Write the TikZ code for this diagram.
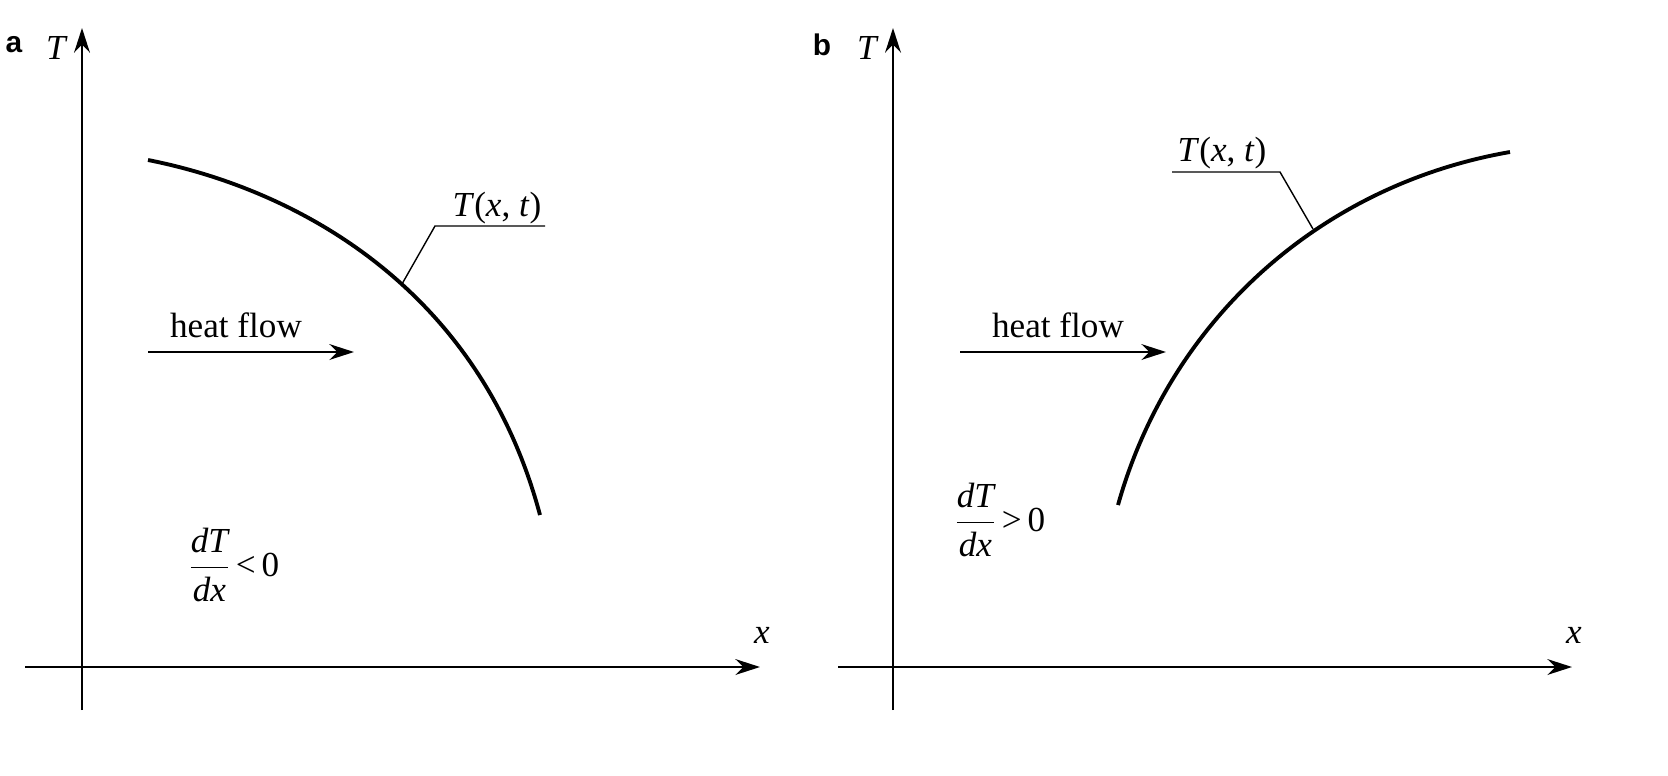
\documentclass[tikz,border=0pt]{standalone}
\usepackage{fontspec}
\setmainfont{Liberation Serif}
\newfontfamily\labfont{Liberation Sans}
\usetikzlibrary{arrows.meta}
\newcommand{\vi}[1]{\textit{#1}}
\begin{document}
\begin{tikzpicture}[x=0.02cm,y=-0.02cm,
  ax/.style={line width=1.3pt,-{Stealth[length=14pt,width=9pt]}},
  crv/.style={line width=2.2pt},
  lead/.style={line width=0.8pt},
  txt/.style={font=\fontsize{20}{23}\selectfont,inner sep=0pt},
  lab/.style={font=\labfont\bfseries\fontsize{17}{20}\selectfont,inner sep=0pt}]
\path[use as bounding box] (0,0) rectangle (1668,775);
% panel a
\coordinate (ay0) at (82,710); \coordinate (ay1) at (82,28);
\coordinate (ax0) at (25,667); \coordinate (ax1) at (760,667);
\draw[ax] (ay0) -- (ay1);
\draw[ax] (ax0) -- (ax1);
\node[lab] (la) at (14,45) {a};
\node[txt] (Ta) at (57,48) {\vi{T}};
\node[txt] (xa) at (762,635) {\vi{x}};
\coordinate (ca0) at (148,160); \coordinate (ca1) at (540,515);
\draw[crv] (ca0) .. controls (300,190) and (480,290) .. (ca1);
\node[txt] (Tla) at (497,208) {\vi{T}(\vi{x}, \vi{t})};
\coordinate (ua0) at (545,226); \coordinate (ua1) at (435,226); \coordinate (ua2) at (402,284);
\draw[lead] (ua0) -- (ua1) -- (ua2);
\node[txt] (hfa) at (236,325) {heat flow};
\coordinate (ha0) at (148,352); \coordinate (ha1) at (354,352);
\draw[ax] (ha0) -- (ha1);
\node[txt] (da) at (234,565) {$\displaystyle\frac{\vi{dT}}{\vi{dx}}$\,<\,0};
% panel b
\coordinate (by0) at (893,710); \coordinate (by1) at (893,28);
\coordinate (bx0) at (838,667); \coordinate (bx1) at (1572,667);
\draw[ax] (by0) -- (by1);
\draw[ax] (bx0) -- (bx1);
\node[lab] (lb) at (822,45) {b};
\node[txt] (Tb) at (868,48) {\vi{T}};
\node[txt] (xb) at (1574,635) {\vi{x}};
\coordinate (cb0) at (1118,505); \coordinate (cb1) at (1510,152);
\draw[crv] (cb0) .. controls (1170,320) and (1320,185) .. (cb1);
\node[txt] (Tlb) at (1222,153) {\vi{T}(\vi{x}, \vi{t})};
\coordinate (ub0) at (1172,172); \coordinate (ub1) at (1280,172); \coordinate (ub2) at (1313,229);
\draw[lead] (ub0) -- (ub1) -- (ub2);
\node[txt] (hfb) at (1058,325) {heat flow};
\coordinate (hb0) at (960,352); \coordinate (hb1) at (1166,352);
\draw[ax] (hb0) -- (hb1);
\node[txt] (db) at (1000,520) {$\displaystyle\frac{\vi{dT}}{\vi{dx}}$\,>\,0};
\end{tikzpicture}
\end{document}
